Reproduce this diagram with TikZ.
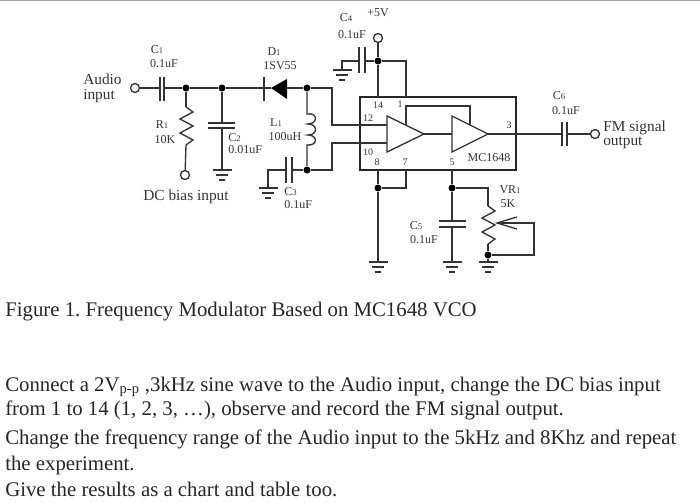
\documentclass[tikz,border=0pt]{standalone}
\usepackage{fontspec}
\setmainfont{Liberation Serif}
\newcommand{\idx}[1]{{\fontsize{6.5}{7}\selectfont #1}}
\definecolor{ink}{rgb}{0.2,0.2,0.2}
\tikzset{
  wire/.style={draw=ink,line width=1pt},
  box/.style={draw=black!85,line width=1.5pt},
  term/.style={circle,draw=ink,line width=1pt,fill=white,inner sep=0pt,minimum size=9pt*0.75},
  dot/.style={circle,fill=black,inner sep=0pt,minimum size=7pt*0.75},
  tag/.style={text=ink,inner sep=0.75pt,font=\fontsize{9}{10}\selectfont},
  pin/.style={text=ink,inner sep=0.75pt,font=\fontsize{7.5}{8}\selectfont},
  big/.style={text=ink,inner sep=0.75pt,font=\fontsize{11.5}{12}\selectfont},
  body/.style={text=black!85,inner sep=0pt,anchor=base west,font=\fontsize{15.6}{16}\selectfont\frenchspacing},
  gnd/.pic={\draw[wire] (-9.5,0) -- (9.5,0) (-6,-5) -- (6,-5) (-3,-10) -- (3,-10);},
  zig/.pic={\draw[wire] (0,0) -- (7,-5) -- (-6,-12) -- (7,-19) -- (-6,-26) -- (7,-33) -- (0,-38);}
}
\begin{document}
\begin{tikzpicture}[x=0.75pt,y=0.75pt,yscale=-1,xscale=1]
\useasboundingbox (0,0) rectangle (700,503);

%Top edge
\draw [black!35,line width=0.8pt] (0,0.5) -- (700,0.5);

% Terminals and junctions
\node [term] (tAudio) at (135,88) {};
\node [term] (tBias) at (185,175) {};
\node [term] (tVcc) at (378,38) {};
\node [term] (tFm) at (595,134) {};
\node [dot] (j1) at (186,88) {};
\node [dot] (j2) at (222,88) {};
\node [dot] (j3) at (307,88) {};
\node [dot] (j4) at (307,170) {};
\node [dot] (j5) at (378,61) {};
\node [dot] (j6) at (378,188) {};
\node [dot] (j7) at (452,188) {};
\node [dot] (j8) at (488,255) {};

% Chip
\node [box,minimum width=117pt,minimum height=54.75pt,inner sep=0pt] (chip) at (438,133.5) {};
\coordinate (amp1) at (387,116);
\coordinate (amp1b) at (387,152);
\coordinate (amp1o) at (424,134);
\coordinate (amp2) at (452,116);
\coordinate (amp2b) at (452,152);
\coordinate (amp2o) at (488,134);
\draw [wire] (amp1) -- (amp1o) -- (amp1b) -- cycle ;
\draw [wire] (amp2) -- (amp2o) -- (amp2b) -- cycle ;
\draw [wire] (amp1o) -- (452,134) ;
\draw [wire] (406,125) |- (470,106) -- (470,125) ;

%C1
\draw [wire] (tAudio) -- (160,88) (164,88) -- (j1) ;
\draw [wire] (160,77) -- (160,101) (164,77) -- (164,101) ;
\draw [wire] (j1) -- (j2) -- (264,88) ;
%D1
\draw [wire] (264,77) -- (264,101) ;
\draw [wire] (264,88) -- (271,88) ;
\fill [black] (271,88) -- (287,79) -- (287,99) -- cycle ;
\draw [wire] (287,88) -- (j3) ;
\draw [wire] (j3) -- (332,88) |- (387,125) ;
%R1
\draw [wire] (j1) -- (186,107) ;
\pic at (186,107) {zig};
\draw [wire] (186,145) -- (tBias) ;
%C2
\coordinate (g2) at (222,170);
\draw [wire] (j2) -- (222,123) (222,128) -- (g2) ;
\draw [wire] (208,123) -- (235,123) (208,128) -- (235,128) ;
\pic at (g2) {gnd};
%L1
\draw [wire] (j3) -- (307,114) .. controls (318,112) and (318,124) .. (308,124) .. controls (318,124) and (318,135) .. (308,135) .. controls (318,135) and (318,146) .. (307,145) -- (j4) ;
%C3
\coordinate (g3) at (268,188);
\draw [wire] (j4) -- (292,170) (286,170) -| (g3) ;
\draw [wire] (286,157) -- (286,183) (292,157) -- (292,183) ;
\pic at (g3) {gnd};
\draw [wire] (j4) -- (332,170) |- (387,143) ;
%C4
\coordinate (g4) at (342,70);
\draw [wire] (tVcc) -- (j5) -- (378,97) ;
\draw [wire] (j5) -- (365,61) (359,61) -| (g4) ;
\draw [wire] (359,47) -- (359,73) (365,47) -- (365,73) ;
\pic at (g4) {gnd};
\draw [wire] (j5) -| (406,97) ;
%C6
\draw [wire] (amp2o) -- (562,134) (567,134) -- (tFm) ;
\draw [wire] (562,122) -- (562,146) (567,122) -- (567,146) ;
%Pins 8 and 7
\coordinate (g6) at (378,262);
\draw [wire] (378,170) -- (j6) -- (g6) ;
\draw [wire] (406,170) |- (j6) ;
\pic at (g6) {gnd};
%C5
\coordinate (g7) at (452,262);
\draw [wire] (452,170) -- (j7) -- (452,221) (452,227) -- (g7) ;
\draw [wire] (439,221) -- (466,221) (439,227) -- (466,227) ;
\pic at (g7) {gnd};
%VR1
\coordinate (g8) at (488,262);
\draw [wire] (j7) -| (488,206) ;
\pic at (488,206) {zig};
\draw [wire] (488,244) -- (j8) -- (g8) ;
\pic at (g8) {gnd};
\draw [wire] (497,223) -- (534,223) |- (j8) ;
\draw [wire] (517,217) -- (497,223) -- (517,229) ;

% Text Node
\node [big,anchor=west] (lAudio) at (82,79) {Audio};
\node [big,anchor=west] (lInput) at (82,96) {input};
\node [big] (lBias) at (186,197) {DC bias input};
\node [big,anchor=west] (lFm) at (602,128) {FM signal};
\node [big,anchor=west] (lOut) at (602,143) {output};
\node [tag] (lC1) at (157,50) {C\idx{1}};
\node [tag] (vC1) at (164,64) {0.1uF};
\node [tag] (lD1) at (274,52) {D\idx{1}};
\node [tag] (vD1) at (280,66) {1SV55};
\node [tag] (lR1) at (162,125) {R\idx{1}};
\node [tag] (vR1) at (165,140) {10K};
\node [tag,anchor=west] (lC2) at (227,138) {C\idx{2}};
\node [tag,anchor=west] (vC2) at (227,150) {0.01uF};
\node [tag] (lL1) at (276,123) {L\idx{1}};
\node [tag] (vL1) at (285,137) {100uH};
\node [tag,anchor=west] (lC3) at (283,192) {C\idx{3}};
\node [tag,anchor=west] (vC3) at (283,205) {0.1uF};
\node [tag] (lC4) at (346,18) {C\idx{4}};
\node [tag] (vC4) at (352,35) {0.1uF};
\node [tag] (lVcc) at (378,13) {+5V};
\node [tag] (lC5) at (416,226) {C\idx{5}};
\node [tag] (vC5) at (424,240) {0.1uF};
\node [tag] (lC6) at (559,96) {C\idx{6}};
\node [tag] (vC6) at (566,111) {0.1uF};
\node [tag] (lVR) at (510,190) {VR\idx{1}};
\node [tag] (vVR) at (508,204) {5K};
\node [tag] (lChip) at (489,158) {MC1648};
\node [pin] (p14) at (378,105) {14};
\node [pin] (p1) at (400,104) {1};
\node [pin] (p12) at (368,118) {12};
\node [pin] (p10) at (368,152) {10};
\node [pin] (p8) at (377,162) {8};
\node [pin] (p7) at (405,162) {7};
\node [pin] (p5) at (452,162) {5};
\node [pin] (p3) at (509,125) {3};

% Caption and notes
\node [body] (cap) at (5,316) {Figure 1. Frequency Modulator Based on MC1648 VCO};
\node [body] (n1) at (5,391) {Connect a 2V\textsubscript{p-p} ,3kHz sine wave to the Audio input, change the DC bias input};
\node [body] (n2) at (5,415) {from 1 to 14 (1, 2, 3, \dots), observe and record the FM signal output.};
\node [body] (n3) at (5,444) {Change the frequency range of the Audio input to the 5kHz and 8Khz and repeat};
\node [body] (n4) at (5,470) {the experiment.};
\node [body] (n5) at (5,496) {Give the results as a chart and table too.};
\end{tikzpicture}
\end{document}
